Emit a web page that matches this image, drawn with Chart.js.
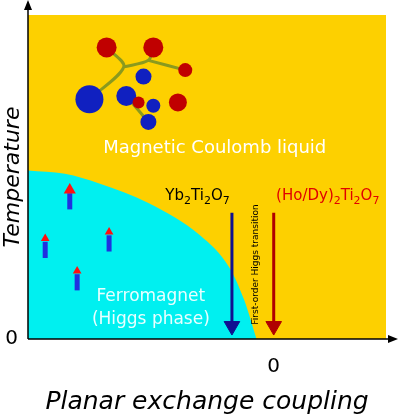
<!DOCTYPE html>
<html><head><meta charset="utf-8">
<script src="https://cdn.jsdelivr.net/npm/chart.js@4"></script>
<style>html,body{margin:0;background:#fff}#wrap{width:400px;height:417px}</style>
</head><body><div id="wrap"><canvas id="chart"></canvas></div>
<script>
// phase boundary (coupling, temperature)
var boundaryX = [-1, -0.85, -0.71, -0.51, -0.30, -0.18, -0.12, -0.07];
var boundaryY = [0.52, 0.51, 0.48, 0.42, 0.32, 0.22, 0.12, 0];
// material arrows
var arrowX = [-0.17, 0];
var arrowTop = 0.39, arrowBottom = 0.04;
// molecule spheres
var atomX = [-0.75, -0.68, -0.49, -0.53, -0.60, -0.55, -0.49, -0.39, -0.36, -0.51];
var atomY = [0.74, 0.90, 0.90, 0.81, 0.75, 0.73, 0.72, 0.73, 0.83, 0.67];
var atomR = [14, 10, 10, 8, 10, 6, 7, 9, 7, 8];
var atomBlue = [1, 0, 0, 1, 1, 0, 1, 0, 0, 1];
var bondX = [-0.75, -0.61, -0.68, null, -0.61, -0.51, -0.49, null, -0.51, -0.36, null, -0.60, -0.51];
var bondY = [0.74, 0.84, 0.90, null, 0.84, 0.86, 0.90, null, 0.86, 0.83, null, 0.75, 0.67];
// spins in ferromagnet
var spinX = [-0.83, -0.93, -0.67, -0.80];
var spinY = [0.45, 0.30, 0.32, 0.20];

var ctx = document.getElementById('chart').getContext('2d');
var pts = function (xs, ys) { return xs.map(function (x, i) { return ys[i] === null ? {x: null, y: null} : {x: x, y: ys[i]}; }); };

var datasets = [];
datasets.push({ type: 'line', order: 10, data: [{x: -1, y: 1}, {x: 0.457, y: 1}], fill: 'origin', backgroundColor: '#fdd000', borderWidth: 0, pointRadius: 0 });
datasets.push({ type: 'line', order: 9, data: pts(boundaryX, boundaryY), fill: 'origin', backgroundColor: '#00f0f0', borderWidth: 0, pointRadius: 0, cubicInterpolationMode: 'monotone' });
datasets.push({ type: 'line', order: 5, data: pts(bondX, bondY), spanGaps: false, borderColor: '#8a9a1e', borderWidth: 3, pointRadius: 0, tension: 0.3 });
datasets.push({ type: 'bubble', order: 1, data: atomX.map(function (x, i) { return {x: x, y: atomY[i], r: atomR[i]}; }),
  backgroundColor: atomBlue.map(function (b) { return b ? '#1020c0' : '#c00000'; }), borderWidth: 0 });
spinX.forEach(function (x, i) {
  datasets.push({ type: 'line', order: 3, data: [{x: x, y: spinY[i] - 0.05}, {x: x, y: spinY[i]}], borderColor: '#2030e0', borderWidth: 5, pointRadius: 0 });
  datasets.push({ type: 'scatter', order: 2, data: [{x: x, y: spinY[i] + 0.01}], pointStyle: 'triangle', pointRadius: i === 0 ? 7 : 5, backgroundColor: '#ff1010', borderWidth: 0 });
});
['#101090', '#b00000'].forEach(function (c, i) {
  datasets.push({ type: 'line', order: 3, data: [{x: arrowX[i], y: arrowTop}, {x: arrowX[i], y: arrowBottom}], borderColor: c, borderWidth: 3, pointRadius: 0 });
  datasets.push({ type: 'scatter', order: 2, data: [{x: arrowX[i], y: arrowBottom}], pointStyle: 'triangle', rotation: 180, pointRadius: 9, backgroundColor: c, borderColor: c });
});

function sub(c, parts, x, y, color) {
  // parts: [text, isSub]
  c.fillStyle = color; c.textAlign = 'left'; c.textBaseline = 'alphabetic';
  var w = 0;
  parts.forEach(function (p) { c.font = p[1] ? '11px DejaVu Sans' : '15px DejaVu Sans'; w += c.measureText(p[0]).width; });
  var cx = x - w / 2;
  parts.forEach(function (p) {
    c.font = p[1] ? '11px DejaVu Sans' : '15px DejaVu Sans';
    c.fillText(p[0], cx, y + (p[1] ? 4 : 0)); cx += c.measureText(p[0]).width;
  });
}

var textPlugin = {
  id: 'texts',
  afterDatasetsDraw: function (chart) {
    var c = chart.ctx, xs = chart.scales.x, ys = chart.scales.y, a = chart.chartArea;
    c.save();
    c.fillStyle = '#fff'; c.textAlign = 'center'; c.textBaseline = 'middle';
    c.font = '18px DejaVu Sans';
    c.fillText('Magnetic Coulomb liquid', xs.getPixelForValue(-0.24), ys.getPixelForValue(0.59));
    c.fillStyle = '#e8ffff'; c.font = '17px DejaVu Sans';
    c.fillText('Ferromagnet', xs.getPixelForValue(-0.5), ys.getPixelForValue(0.13));
    c.fillText('(Higgs phase)', xs.getPixelForValue(-0.5), ys.getPixelForValue(0.06));
    sub(c, [['Yb', 0], ['2', 1], ['Ti', 0], ['2', 1], ['O', 0], ['7', 1]], xs.getPixelForValue(-0.31), ys.getPixelForValue(0.43), '#000');
    sub(c, [['(Ho/Dy)', 0], ['2', 1], ['Ti', 0], ['2', 1], ['O', 0], ['7', 1]], xs.getPixelForValue(0.22), ys.getPixelForValue(0.43), '#e00000');
    c.save();
    c.translate(xs.getPixelForValue(-0.075), ys.getPixelForValue(0.23));
    c.rotate(-Math.PI / 2);
    c.fillStyle = '#000'; c.font = '9px DejaVu Sans'; c.textAlign = 'center'; c.textBaseline = 'middle';
    c.fillText('First-order Higgs transition', 0, 0);
    c.restore();
    // axes with arrows
    c.strokeStyle = '#000'; c.fillStyle = '#000'; c.lineWidth = 1.5;
    c.beginPath(); c.moveTo(a.left, a.bottom); c.lineTo(a.right + 8, a.bottom);
    c.moveTo(a.left, a.bottom); c.lineTo(a.left, a.top - 12); c.stroke();
    c.beginPath(); c.moveTo(a.right + 12, a.bottom); c.lineTo(a.right + 2, a.bottom - 4); c.lineTo(a.right + 2, a.bottom + 4); c.fill();
    c.beginPath(); c.moveTo(a.left, a.top - 15); c.lineTo(a.left - 4, a.top - 5); c.lineTo(a.left + 4, a.top - 5); c.fill();
    c.restore();
  }
};

new Chart(ctx, {
  data: { datasets: datasets },
  options: {
    responsive: true, maintainAspectRatio: false, animation: false,
    layout: { padding: { top: 15, right: 12, left: 0, bottom: 0 } },
    plugins: { legend: { display: false }, tooltip: { enabled: false } },
    scales: {
      x: { type: 'linear', min: -1, max: 0.457, grid: { display: false }, border: { display: false },
        afterBuildTicks: function (s) { s.ticks = [{value: 0}]; },
        ticks: { color: '#000', font: { size: 20, family: 'DejaVu Sans' }, padding: 8 },
        title: { display: true, text: 'Planar exchange coupling', color: '#000', padding: 0,
          font: { size: 25, style: 'italic', family: 'DejaVu Sans' } } },
      y: { type: 'linear', min: 0, max: 1, grid: { display: false }, border: { display: false },
        afterBuildTicks: function (s) { s.ticks = [{value: 0}]; },
        afterFit: function (s) { s.width = 28; },
        ticks: { color: '#000', font: { size: 20, family: 'DejaVu Sans' }, padding: 2 },
        title: { display: true, text: 'Temperature', color: '#000', padding: 0,
          font: { size: 22, style: 'italic', family: 'DejaVu Sans' } } }
    }
  },
  plugins: [textPlugin]
});
</script></body></html>
